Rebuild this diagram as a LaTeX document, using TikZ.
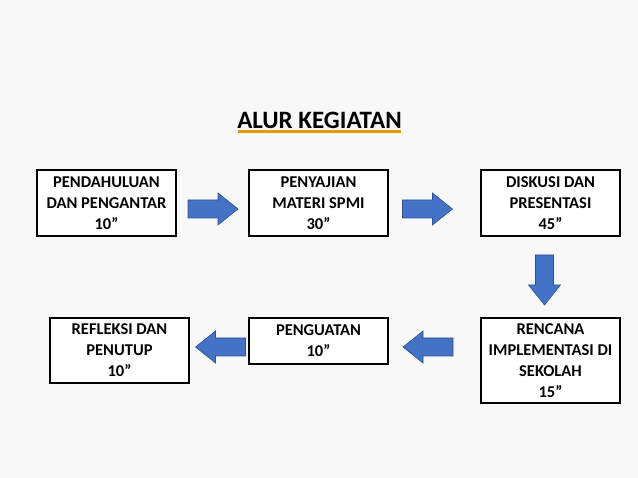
\documentclass[tikz,border=0pt]{standalone}
\usepackage{fontspec}
\setmainfont{Carlito}
\definecolor{bg}{HTML}{F8F8F8}
\definecolor{ablue}{HTML}{4472C4}
\definecolor{aedge}{HTML}{2F528F}
\definecolor{uline}{HTML}{ED9A00}
\tikzset{
 box/.style={draw=black,line width=1.6pt,fill=white,align=center,font=\fontsize{16.5}{21}\selectfont\bfseries,inner sep=0pt},
 pics/barrow/.style={code={
  \filldraw[draw=aedge,line width=0.6pt,fill=ablue] (-25,-9) -- (5,-9) -- (5,-16) -- (25,0) -- (5,16) -- (5,9) -- (-25,9) -- cycle;}}
}
\begin{document}
\begin{tikzpicture}[x=1pt,y=-1pt]
\fill[bg] (0,0) rectangle (638,478);
\useasboundingbox (0,0) rectangle (638,478);
\node[font=\fontsize{25}{29}\selectfont\bfseries] (t) at (319.5,120) {ALUR KEGIATAN};
\draw[uline,line width=2.4pt] (238,131.5) -- (401,131.5);
\node[box,minimum width=139pt,minimum height=66pt] (b1) at (106.5,203) {PENDAHULUAN\\DAN PENGANTAR\\10”};
\node[box,minimum width=139pt,minimum height=66pt] (b2) at (318.5,203) {PENYAJIAN\\MATERI SPMI\\30”};
\node[box,minimum width=139pt,minimum height=66pt] (b3) at (550.5,203) {DISKUSI DAN\\PRESENTASI\\45”};
\node[box,minimum width=139pt,minimum height=85pt] (b4) at (550.5,360.5) {RENCANA\\IMPLEMENTASI DI\\SEKOLAH\\15”};
\node[box,minimum width=139pt,minimum height=46pt] (b5) at (318.5,341) {PENGUATAN\\10”};
\node[box,minimum width=139pt,minimum height=65pt] (b6) at (119.5,350.5) {REFLEKSI DAN\\PENUTUP\\10”};
\pic (a1) at (213,209) {barrow};
\pic (a2) at (427.5,209) {barrow};
\pic[rotate=-90] (a3) at (544.5,280) {barrow};
\pic[rotate=180] (a4) at (220.5,347) {barrow};
\pic[rotate=180] (a5) at (428,347) {barrow};
\end{tikzpicture}
\end{document}
